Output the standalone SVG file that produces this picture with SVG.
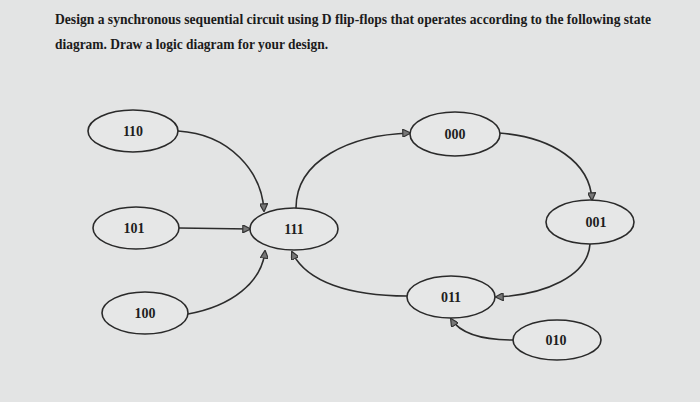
<svg xmlns="http://www.w3.org/2000/svg" width="700" height="402" viewBox="0 0 700 402">
<defs>
<style>
.bg{fill:#e3e4e4}
.title{font-family:"Liberation Serif","Times New Roman",serif;font-size:14px;fill:#1b1b1b;font-weight:bold}
.node ellipse{fill:#e6e7e7;stroke:#2a2a2a;stroke-width:1.6}
.node text{font-family:"Liberation Serif","Times New Roman",serif;font-size:14px;font-weight:bold;fill:#1e1e1e;text-anchor:middle}
.edge{fill:none;stroke:#2c2c2c;stroke-width:1.6;marker-end:url(#arr)}
</style>
<marker id="arr" viewBox="0 0 10 10" refX="9" refY="5" markerWidth="9" markerHeight="8" orient="auto" markerUnits="userSpaceOnUse">
<path d="M0,0 L10,5 L0,10 Z" fill="#777" stroke="#333" stroke-width="1.5"/>
</marker>
</defs>
<rect class="bg" x="0" y="0" width="700" height="402"/>
<text class="title" x="55" y="24" textLength="596" lengthAdjust="spacingAndGlyphs">Design a synchronous sequential circuit using D flip-flops that operates according to the following state</text>
<text class="title" x="55" y="49" textLength="273" lengthAdjust="spacingAndGlyphs">diagram. Draw a logic diagram for your design.</text>
<g id="connectors">
<path class="edge" d="M178,131 C230,134 262,172 264,211"/>
<path class="edge" d="M179,228 L250,229"/>
<path class="edge" d="M188,314 C232,306 262,282 265,251"/>
<path class="edge" d="M296,208 C296,160 350,135 410,133"/>
<path class="edge" d="M499,133 C552,137 590,162 592,200"/>
<path class="edge" d="M590,244 C588,276 545,295 496,297"/>
<path class="edge" d="M407,296 C350,296 306,282 292,252"/>
<path class="edge" d="M513,340 C482,340 460,333 451,319"/>
</g>
<g id="n110" class="node"><ellipse cx="133" cy="131" rx="45" ry="21"/><text x="133" y="136">110</text></g>
<g id="n101" class="node"><ellipse cx="136" cy="228" rx="43" ry="21"/><text x="134" y="233">101</text></g>
<g id="n111" class="node"><ellipse cx="294" cy="229" rx="44" ry="21"/><text x="294" y="234">111</text></g>
<g id="n100" class="node"><ellipse cx="145" cy="313" rx="43" ry="21"/><text x="145" y="318">100</text></g>
<g id="n000" class="node"><ellipse cx="455" cy="134" rx="45" ry="22"/><text x="455" y="139">000</text></g>
<g id="n001" class="node"><ellipse cx="590" cy="222" rx="44" ry="22"/><text x="596" y="227">001</text></g>
<g id="n011" class="node"><ellipse cx="451" cy="297" rx="44" ry="21"/><text x="451" y="302">011</text></g>
<g id="n010" class="node"><ellipse cx="557" cy="340" rx="44" ry="20"/><text x="556" y="345">010</text></g>
</svg>
